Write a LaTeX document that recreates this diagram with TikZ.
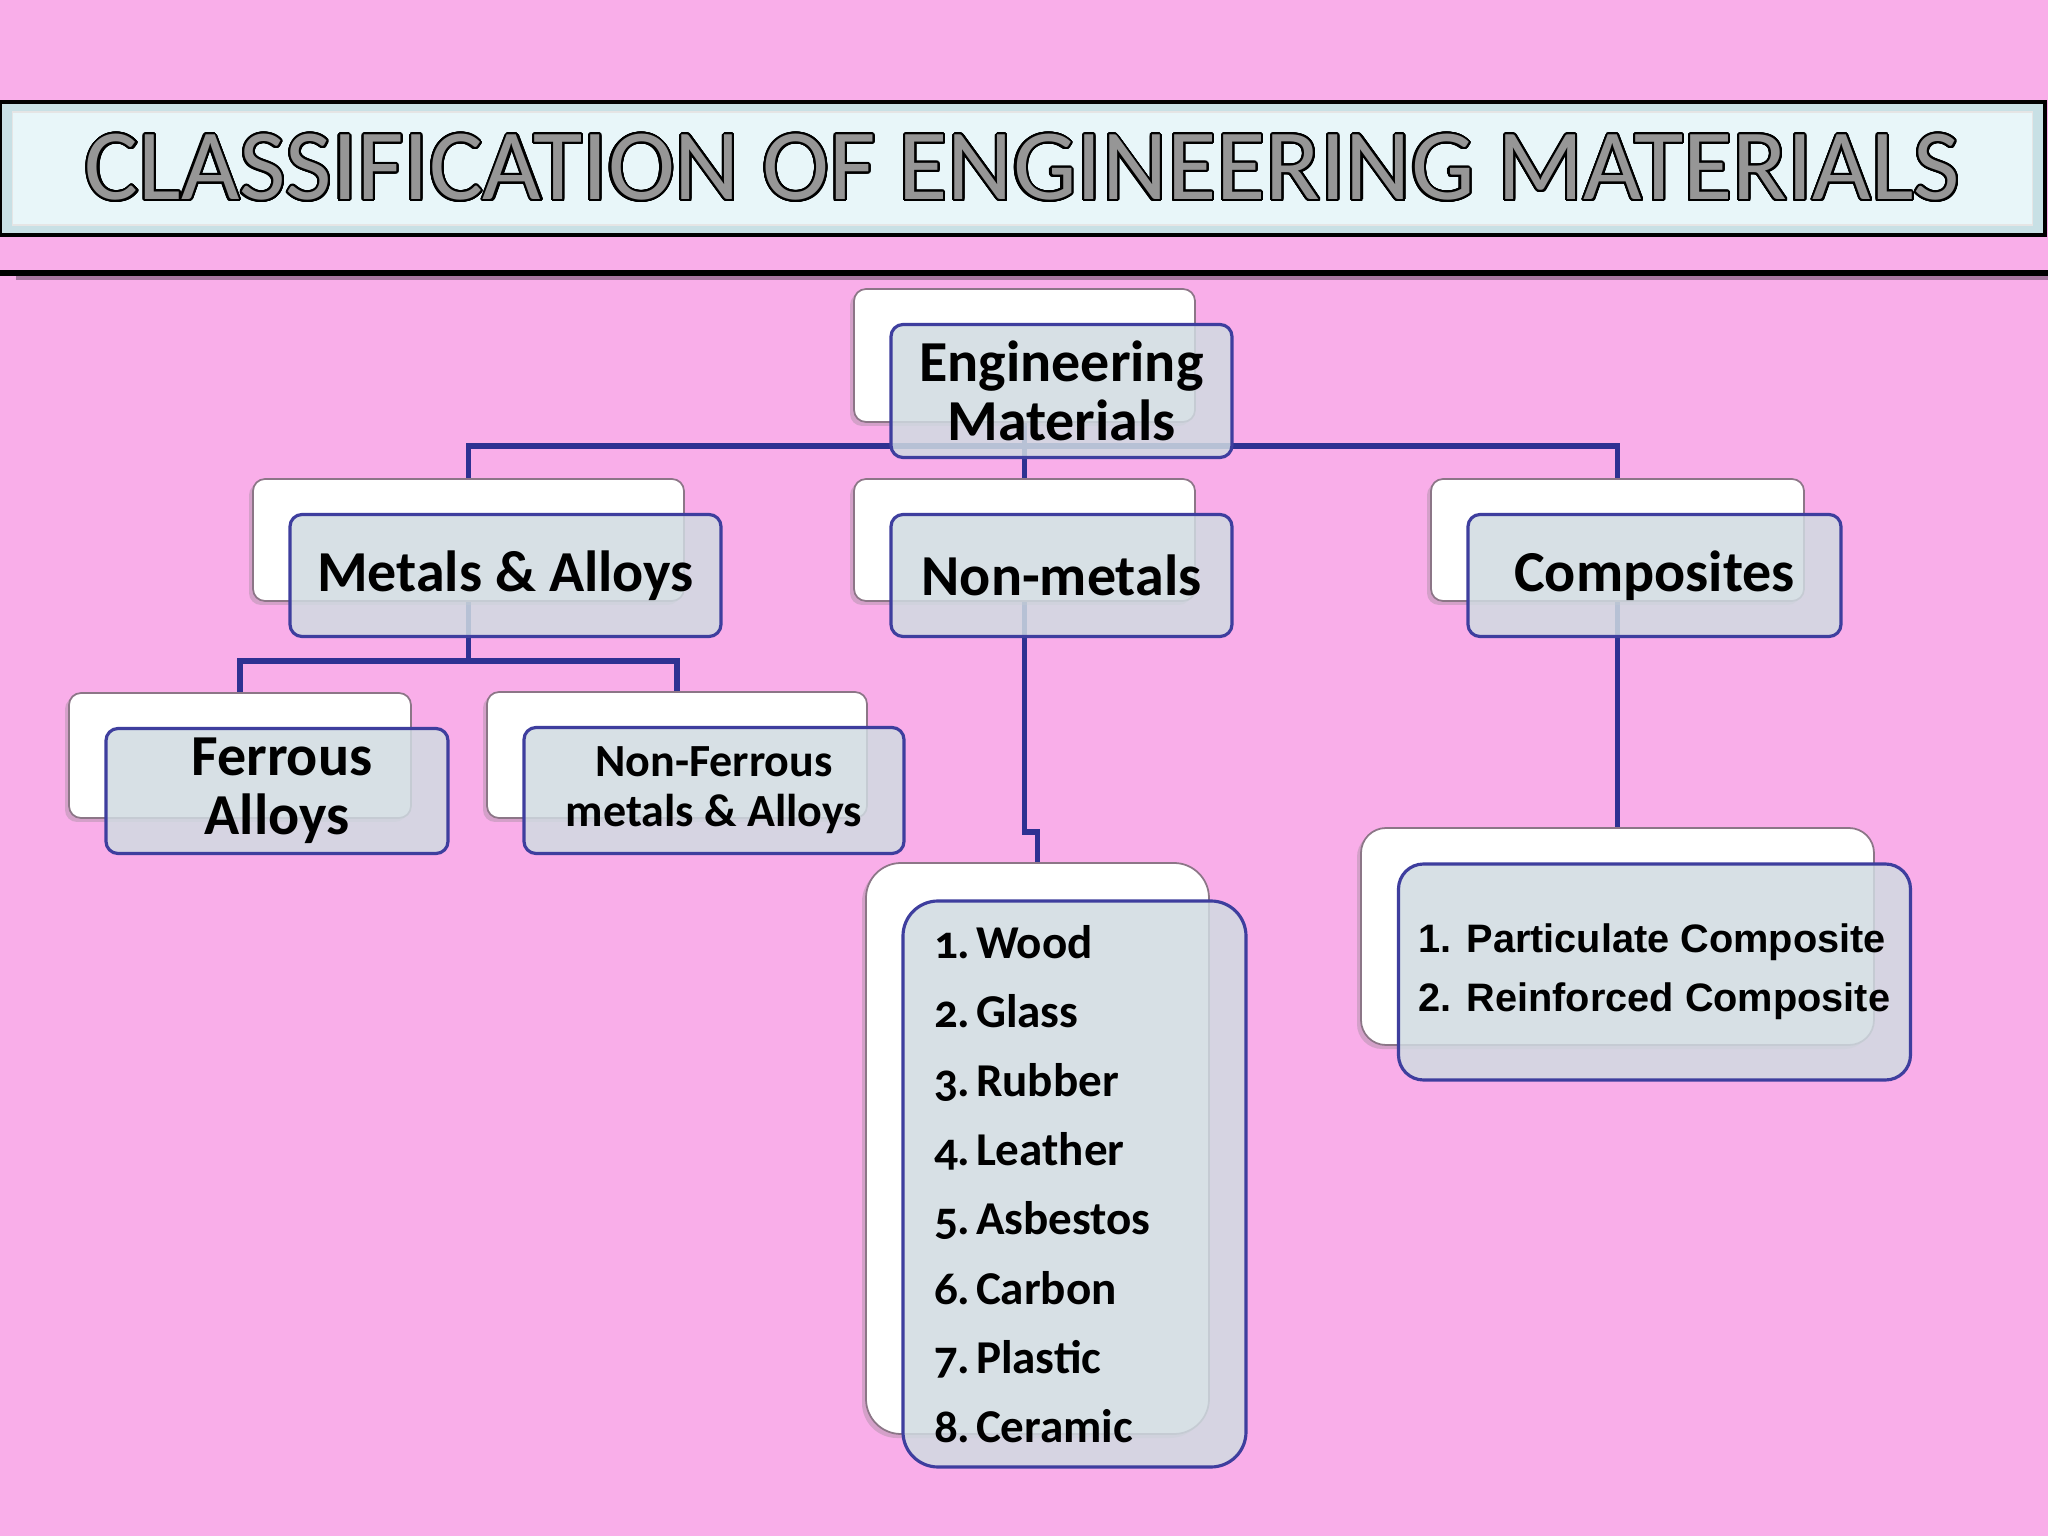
\documentclass[tikz,border=0pt]{standalone}
\usepackage{fontspec}
\setmainfont{Carlito}
\newfontfamily\listfont[Numbers=OldStyle]{Carlito}
\newfontfamily\arialfont{Liberation Sans}
\usepackage{contour}
\usetikzlibrary{positioning, calc, shadows}
\definecolor{pagepink}{RGB}{249, 174, 233}
\definecolor{linknavy}{RGB}{46, 49, 146}
\definecolor{boxedge}{RGB}{62, 62, 158}
\definecolor{boxfill}{RGB}{208, 219, 225}
\definecolor{backedge}{RGB}{140, 118, 135}
\definecolor{titlefill}{RGB}{200, 224, 229}
\definecolor{titleinner}{RGB}{232, 246, 249}
\definecolor{titlegray}{RGB}{150, 150, 150}
\definecolor{ruleshade}{RGB}{168, 118, 160}
\pgfdeclarelayer{bg}
\pgfdeclarelayer{links}
\pgfsetlayers{bg,links,main}
\contourlength{0.6pt}
\contournumber{32}
% numbered list entry
\newcommand{\litem}[2]{#1.\hspace{0.12em}#2}

\begin{document}
\begin{tikzpicture}[
    backbox/.style={draw=backedge, line width=0.5pt, fill=white, rounded corners=0.12cm, inner sep=0pt,
        drop shadow={shadow xshift=-0.04cm, shadow yshift=-0.04cm, opacity=0.3}},
    frontbox/.style={draw=boxedge, line width=0.9pt, fill=boxfill, fill opacity=0.85, text opacity=1,
        rounded corners=0.12cm, inner sep=0pt, align=center, xshift=0.37cm, yshift=-0.355cm,
        font=\fontsize{16.5}{16.8}\selectfont\bfseries},
    link/.style={draw=linknavy, line width=1.5pt}
]
    \useasboundingbox (0,0) rectangle (20.48,-15.36);

    % Page and title
    \begin{pgfonlayer}{bg}
        \fill[pagepink] (0,0) rectangle (20.48,-15.36);
    \end{pgfonlayer}
    \node[draw=black, line width=1pt, fill=titlefill, minimum width=20.45cm, minimum height=1.33cm, inner sep=0pt] (titlebar) at (10.225,-1.685) {};
    \node[draw=white!80!gray, fill=titleinner, minimum width=20.2cm, minimum height=1.13cm, inner sep=0pt,
        font=\fontsize{28.7}{30}\selectfont] (title) at (titlebar.center)
        {\color{titlegray}\contour{black}{CLASSIFICATION OF ENGINEERING MATERIALS}};
    \draw[ruleshade, line width=1pt] (0.16,-2.78) -- (20.48,-2.78);
    \draw[black, line width=1.5pt] (0,-2.73) -- (20.48,-2.73);

    % Back boxes
    \node[backbox, minimum width=3.41cm, minimum height=1.33cm] (emb) at (10.245,-3.555) {};
    \node[backbox, minimum width=4.31cm, minimum height=1.22cm] (metb) at (4.685,-5.40) {};
    \node[backbox, minimum width=3.41cm, minimum height=1.22cm] (nmb) at (10.245,-5.40) {};
    \node[backbox, minimum width=3.73cm, minimum height=1.22cm] (compb) at (16.175,-5.40) {};
    \node[backbox, minimum width=3.42cm, minimum height=1.25cm] (ferb) at (2.40,-7.555) {};
    \node[backbox, minimum width=3.80cm, minimum height=1.26cm] (nfb) at (6.77,-7.55) {};
    \node[backbox, minimum width=3.43cm, minimum height=5.71cm, rounded corners=0.35cm] (nlb) at (10.375,-11.485) {};
    \node[backbox, minimum width=5.13cm, minimum height=2.17cm, rounded corners=0.25cm] (clb) at (16.175,-9.365) {};

    % Front boxes
    \node[frontbox, minimum width=3.41cm, minimum height=1.33cm] (em) at (emb) {Engineering\\Materials};
    \node[frontbox, minimum width=4.31cm, minimum height=1.22cm] (met) at (metb) {Metals \& Alloys};
    \node[frontbox, minimum width=3.41cm, minimum height=1.22cm] (nm) at (nmb) {Non-metals};
    \node[frontbox, minimum width=3.73cm, minimum height=1.22cm] (comp) at (compb) {Composites};
    \node[frontbox, minimum width=3.42cm, minimum height=1.25cm] (fer) at (ferb) {\hspace*{0.1cm}Ferrous\\Alloys};
    \node[frontbox, minimum width=3.80cm, minimum height=1.26cm,
        font=\fontsize{13.1}{14.2}\selectfont\bfseries] (nf) at (nfb) {Non-Ferrous\\metals \& Alloys};
    \node[frontbox, minimum width=3.43cm, minimum height=5.66cm, rounded corners=0.35cm, align=left,
        text width=2.81cm, font=\listfont\fontsize{13.4}{19.7}\selectfont\bfseries] (nl) at (nlb)
        {\litem{1}{Wood}\\\litem{2}{Glass}\\\litem{3}{Rubber}\\\litem{4}{Leather}\\
         \litem{5}{Asbestos}\\\litem{6}{Carbon}\\\litem{7}{Plastic}\\\litem{8}{Ceramic}};
    \node[frontbox, minimum width=5.12cm, minimum height=2.16cm, rounded corners=0.25cm, align=left,
        font=\arialfont\fontsize{11.3}{16.8}\selectfont\bfseries] (cl) at (clb)
        {1. Particulate Composite\\2. Reinforced Composite};

    % Connectors
    \begin{pgfonlayer}{links}
        \coordinate (emhub) at ($(emb.south)+(0,-0.23)$);
        \draw[link] (emb.south) -- (emhub) -| (metb.north);
        \draw[link] (emhub) -| (compb.north);
        \draw[link] (emb.south) -- (nmb.north);
        \coordinate (methub) at ($(metb.south)+(0,-0.59)$);
        \draw[link] (metb.south) -- (methub) -| (ferb.north);
        \draw[link] (methub) -| (nfb.north);
        \draw[link] (nmb.south) |- ($(nlb.north)+(0,0.30)$) -- (nlb.north);
        \draw[link] (compb.south) -- (clb.north);
    \end{pgfonlayer}

\end{tikzpicture}
\end{document}
